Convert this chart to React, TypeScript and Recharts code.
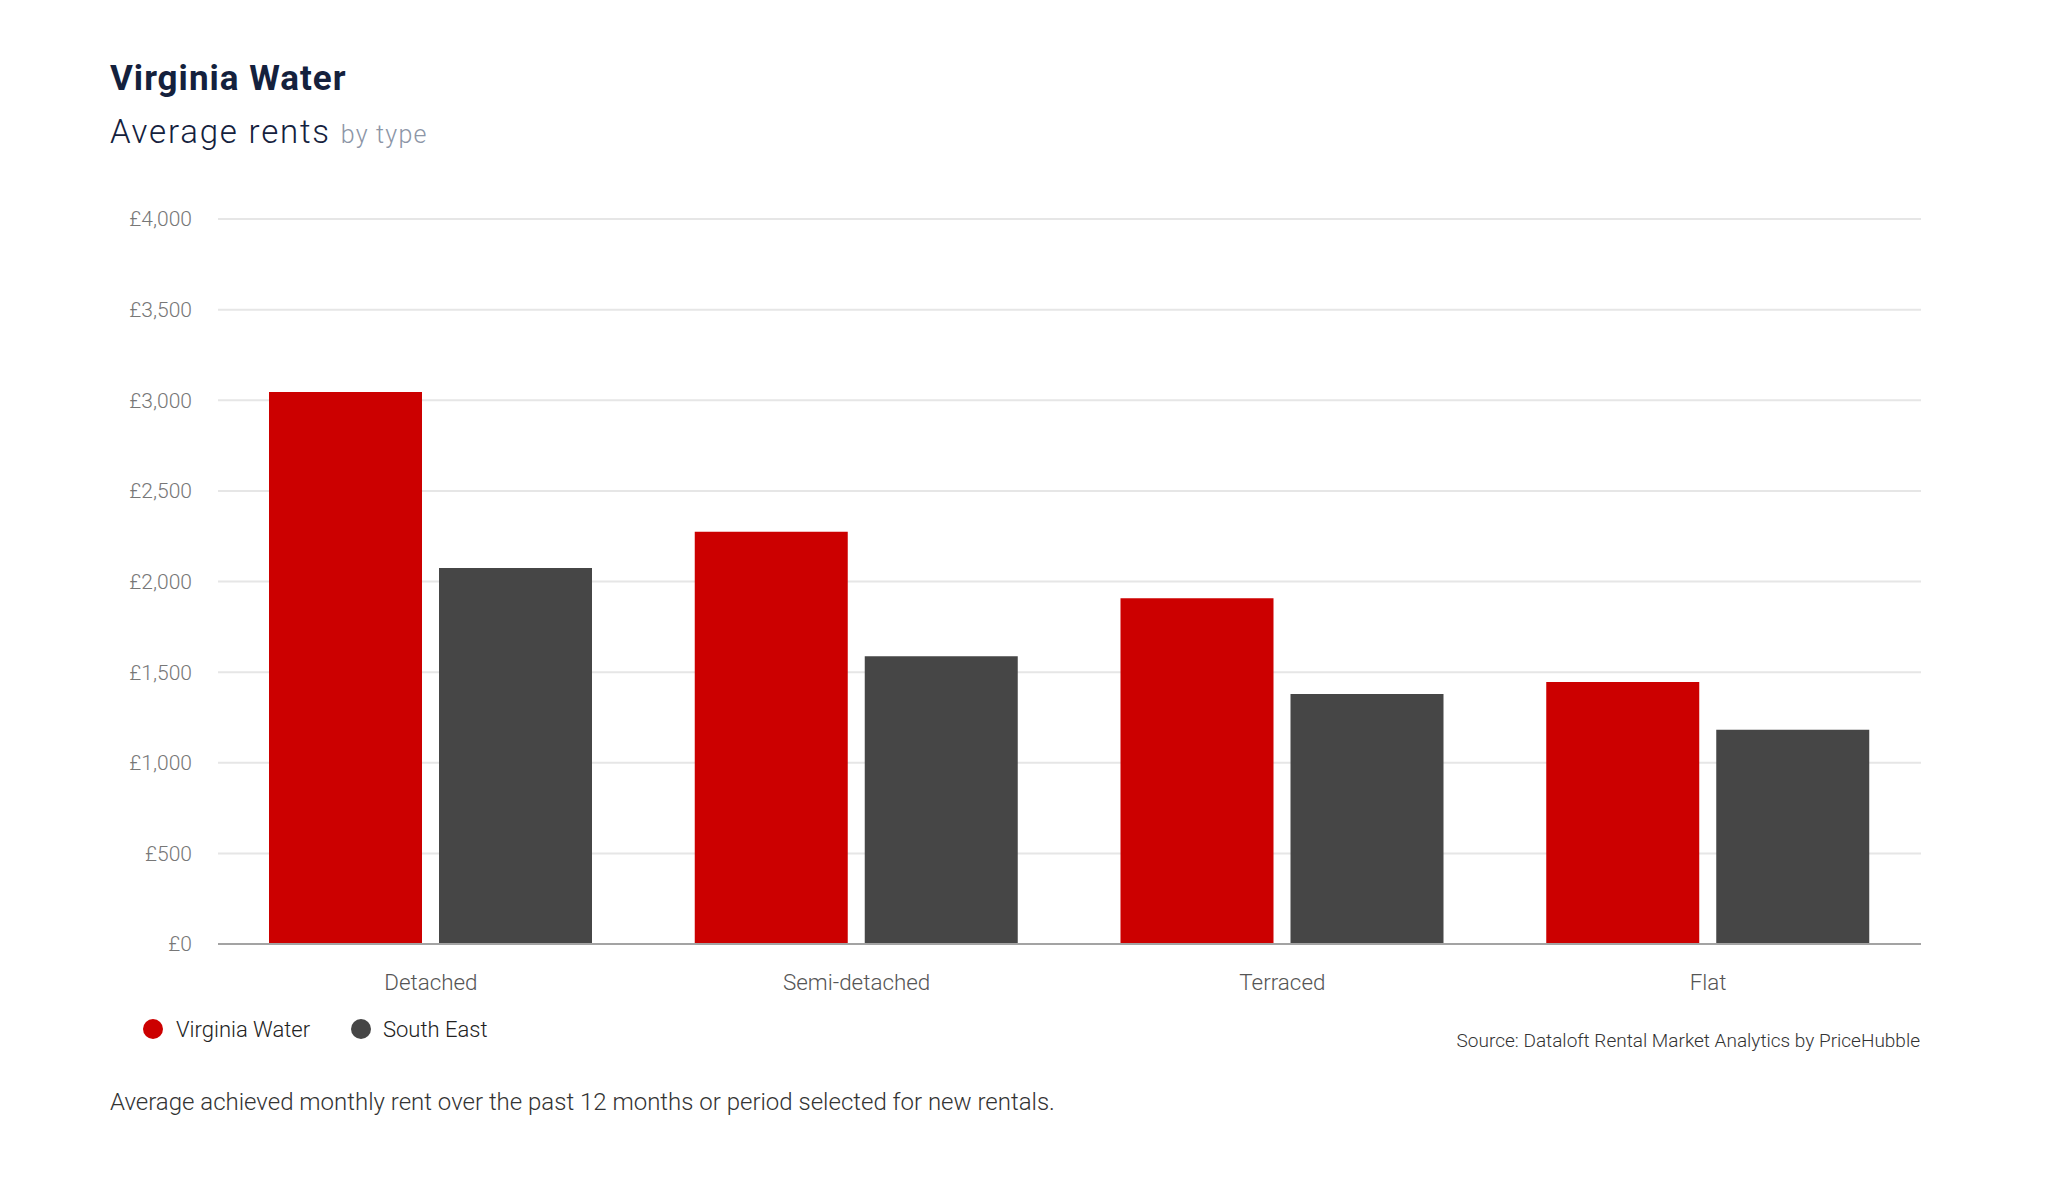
import { BarChart, Bar, XAxis, YAxis, CartesianGrid } from 'recharts'

const propertyTypes = ['Detached', 'Semi-detached', 'Terraced', 'Flat']
const virginiaWater = [3045, 2275, 1907, 1446]
const southEast = [2074, 1587, 1380, 1182]
const yTicks = [0, 500, 1000, 1500, 2000, 2500, 3000, 3500, 4000]

const RED = '#cc0000'
const GREY = '#464646'
const FONT = 'Roboto, "Noto Sans", sans-serif'

const data = propertyTypes.map((type, i) => ({
  type,
  vw: virginiaWater[i],
  se: southEast[i],
}))

const fmt = (v: number) => '£' + v.toLocaleString('en-GB')

export default function App() {
  return (
    <div
      style={{
        position: 'absolute',
        left: 0,
        top: 0,
        width: 2048,
        height: 1178,
        background: '#fff',
        fontFamily: FONT,
        overflow: 'hidden',
      }}
    >
      <div
        style={{
          position: 'absolute',
          left: 110,
          top: 60.5,
          fontSize: 35,
          lineHeight: '35px',
          fontWeight: 700,
          letterSpacing: 1,
          color: '#14213d',
          whiteSpace: 'nowrap',
        }}
      >
        Virginia Water
      </div>
      <div
        style={{
          position: 'absolute',
          left: 110,
          top: 115,
          fontSize: 33,
          lineHeight: '33px',
          fontWeight: 300,
          letterSpacing: 1.8,
          color: '#14213d',
          whiteSpace: 'nowrap',
        }}
      >
        Average rents{' '}
        <span style={{ fontSize: 25, letterSpacing: 1.2, color: '#8c95a6' }}>by type</span>
      </div>

      <div style={{ position: 'absolute', left: 0, top: 0 }}>
        <BarChart
          width={2048}
          height={1000}
          data={data}
          margin={{ top: 219, right: 127, bottom: 0, left: 0 }}
          barCategoryGap={51}
          barGap={17}
        >
          <CartesianGrid vertical={false} stroke="#e6e6e6" strokeWidth={2} />
          <XAxis
            dataKey="type"
            height={56}
            tickLine={false}
            tickSize={0}
            tickMargin={30}
            axisLine={{ stroke: '#a3a3a3', strokeWidth: 2 }}
            tick={{ fill: '#555', fontSize: 22.4, fontWeight: 300, fontFamily: FONT }}
          />
          <YAxis
            width={218}
            domain={[0, 4000]}
            ticks={yTicks}
            tickFormatter={fmt}
            axisLine={false}
            tickLine={false}
            tickSize={0}
            tickMargin={26}
            tick={{ fill: '#777', fontSize: 21, fontWeight: 300, fontFamily: FONT }}
          />
          <Bar dataKey="vw" name="Virginia Water" fill={RED} isAnimationActive={false} />
          <Bar dataKey="se" name="South East" fill={GREY} isAnimationActive={false} />
        </BarChart>
      </div>

      {[
        { label: 'Virginia Water', color: RED, dot: 153, text: 176 },
        { label: 'South East', color: GREY, dot: 361, text: 383 },
      ].map((l) => (
        <div key={l.label}>
          <div
            style={{
              position: 'absolute',
              left: l.dot - 10,
              top: 1019,
              width: 20,
              height: 20,
              borderRadius: 10,
              background: l.color,
            }}
          />
          <div
            style={{
              position: 'absolute',
              left: l.text,
              top: 1018.5,
              fontSize: 22,
              lineHeight: '22px',
              fontWeight: 300,
              color: '#222',
              whiteSpace: 'nowrap',
            }}
          >
            {l.label}
          </div>
        </div>
      ))}

      <div
        style={{
          position: 'absolute',
          right: 128,
          top: 1030.7,
          fontSize: 19,
          lineHeight: '19px',
          fontWeight: 300,
          color: '#333',
          whiteSpace: 'nowrap',
        }}
      >
        Source: Dataloft Rental Market Analytics by PriceHubble
      </div>

      <div
        style={{
          position: 'absolute',
          left: 110,
          top: 1090,
          fontSize: 24,
          lineHeight: '24px',
          fontWeight: 300,
          color: '#333',
          whiteSpace: 'nowrap',
        }}
      >
        Average achieved monthly rent over the past 12 months or period selected for new rentals.
      </div>
    </div>
  )
}
